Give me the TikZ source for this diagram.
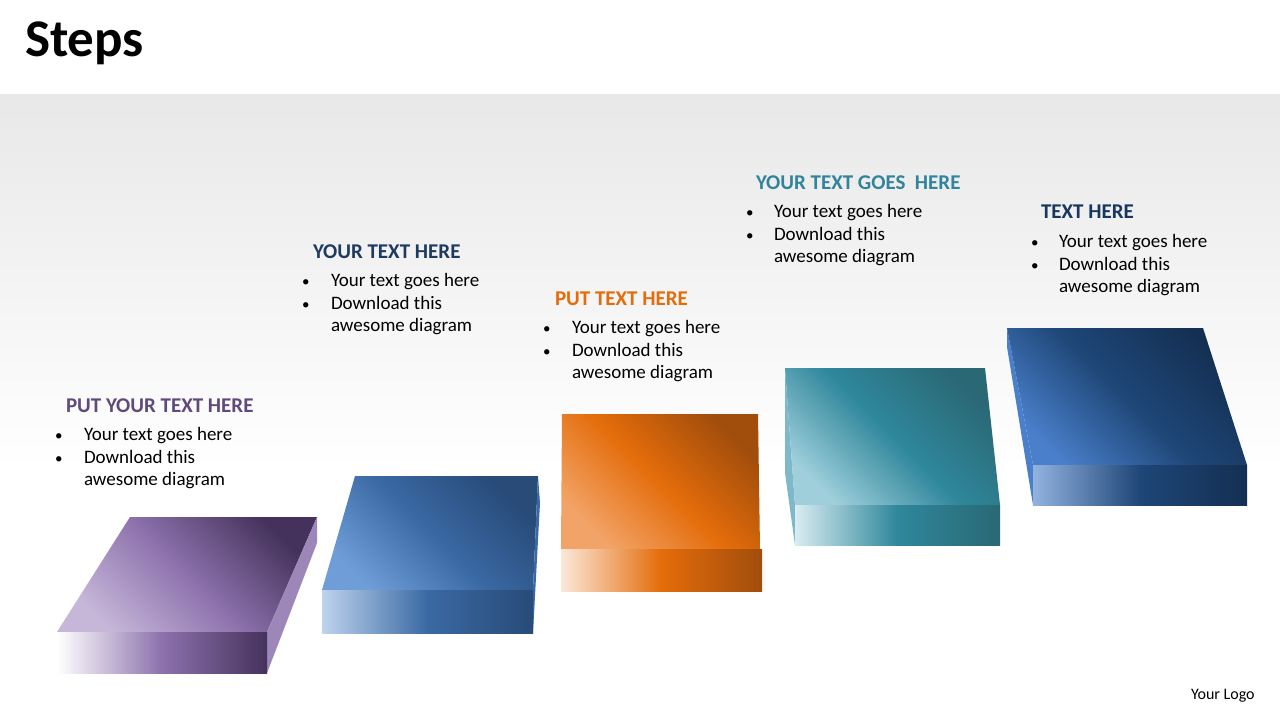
\documentclass[tikz,border=0pt]{standalone}
\usepackage{fontspec}
\setmainfont{Carlito}
\usepackage{tikz}
\definecolor{purdark}{HTML}{45325C}
\definecolor{purmid}{HTML}{8C71AC}
\definecolor{purlight}{HTML}{C6B6D8}
\definecolor{bludark}{HTML}{284B78}
\definecolor{blumid}{HTML}{3A69A3}
\definecolor{blulight}{HTML}{6E9DD8}
\definecolor{oradark}{HTML}{A14D0C}
\definecolor{oramid}{HTML}{E46C0A}
\definecolor{oralight}{HTML}{F2A468}
\definecolor{tealdark}{HTML}{2A6875}
\definecolor{tealmid}{HTML}{2F879B}
\definecolor{teallight}{HTML}{9FCFDB}
\definecolor{navdark}{HTML}{142F52}
\definecolor{navmid}{HTML}{1E4677}
\definecolor{navlight}{HTML}{4A80CB}
\definecolor{headpur}{HTML}{604A7B}
\definecolor{headblu}{HTML}{1F3A60}
\definecolor{headora}{HTML}{E46C0A}
\definecolor{headteal}{HTML}{31849B}
\definecolor{headnav}{HTML}{17375E}
\tikzset{
    every node/.style={inner sep=0pt, outer sep=0pt,
    	font=\fontsize{19}{23}\selectfont}
}
\tikzset{
    head/.style={anchor=mid west, font=\fontsize{21}{25}\selectfont\bfseries},
    txt/.style={anchor=mid west},
    dot/.style={anchor=mid west, font=\fontsize{15}{18}\selectfont}
}
\tikzset{
    topface/.style={shading=axis, shading angle=-45}
}

\begin{document}
\begin{tikzpicture}[x=1pt, y=-1pt]
  \useasboundingbox (0,0) rectangle (1280,720);
  \fill[white] (0,0) rectangle (1280,720);
  \shade[top color=black!9, bottom color=white] (0,94) rectangle (1280,470);

  \node (title) [anchor=base west, font=\fontsize{53}{60}\selectfont\bfseries] at (25,56) {Steps};
  \node (logo) [anchor=mid west, font=\fontsize{16}{18}\selectfont] at (1191,697) {Your Logo};

  % step 1
  \shade[top color=purdark, bottom color=purlight, middle color=purmid, topface]
    (130,517) -- (317,517) -- (267,632) -- (57,632) -- cycle;
  \fill[purmid!85!white] (267,632) -- (317,517) -- (317,543) -- (267,673) -- cycle;
  \shade[left color=white, right color=purdark, middle color=purmid]
    (57,632) rectangle (267,673);

  % step 2
  \shade[top color=bludark, bottom color=blulight, middle color=blumid, topface]
    (355,476) -- (538,476) -- (533,590) -- (322,590) -- cycle;
  \fill[blumid] (533,590) -- (538,476) -- (540,503) -- (533,633) -- cycle;
  \shade[left color=blulight!45!white, right color=bludark, middle color=blumid]
    (322,590) rectangle (533,633);

  % step 3
  \shade[top color=oradark, bottom color=oralight, middle color=oramid, topface]
    (562,414) -- (758,414) -- (760,549) -- (561,549) -- cycle;
  \shade[left color=oralight!25!white, right color=oradark, middle color=oramid]
    (561,549) rectangle (762,591);

  % step 4
  \fill[teallight!70!tealmid] (785,368) -- (795,505) -- (795,545) -- (785,473) -- cycle;
  \shade[top color=tealdark, bottom color=teallight, middle color=tealmid, topface]
    (785,368) -- (985,368) -- (1000,505) -- (795,505) -- cycle;
  \shade[left color=teallight!40!white, right color=tealdark, middle color=tealmid]
    (795,505) rectangle (1000,545);

  % step 5
  \fill[navlight] (1007,328) -- (1033,465) -- (1033,505) -- (1007,347) -- cycle;
  \shade[top color=navdark, bottom color=navlight, middle color=navmid, topface]
    (1007,328) -- (1203,328) -- (1247,465) -- (1033,465) -- cycle;
  \shade[left color=navlight!60!white, right color=navdark, middle color=navmid]
    (1033,465) rectangle (1247,505);

  % texts
  \node (1) [head, text=headpur] at (66,410) {PUT YOUR TEXT HERE};
  \node (1a) [dot] at (55,438) {\textbullet};
  \node (1b) [dot] at (55,461) {\textbullet};
  \node (1c) [txt] at (84,438) {Your text goes here};
  \node (1d) [txt] at (84,461) {Download this};
  \node (1e) [txt] at (84,483) {awesome diagram};

  \node (2) [head, text=headblu] at (313,256) {YOUR TEXT HERE};
  \node (2a) [dot] at (302,284) {\textbullet};
  \node (2b) [dot] at (302,307) {\textbullet};
  \node (2c) [txt] at (331,284) {Your text goes here};
  \node (2d) [txt] at (331,307) {Download this};
  \node (2e) [txt] at (331,329) {awesome diagram};

  \node (3) [head, text=headora] at (555,303) {PUT TEXT HERE};
  \node (3a) [dot] at (543,331) {\textbullet};
  \node (3b) [dot] at (543,354) {\textbullet};
  \node (3c) [txt] at (572,331) {Your text goes here};
  \node (3d) [txt] at (572,354) {Download this};
  \node (3e) [txt] at (572,376) {awesome diagram};

  \node (4) [head, text=headteal] at (756,187) {YOUR TEXT GOES \ HERE};
  \node (4a) [dot] at (746,215) {\textbullet};
  \node (4b) [dot] at (746,238) {\textbullet};
  \node (4c) [txt] at (774,215) {Your text goes here};
  \node (4d) [txt] at (774,238) {Download this};
  \node (4e) [txt] at (774,260) {awesome diagram};

  \node (5) [head, text=headnav] at (1041,216) {TEXT HERE};
  \node (5a) [dot] at (1031,245) {\textbullet};
  \node (5b) [dot] at (1031,268) {\textbullet};
  \node (5c) [txt] at (1059,245) {Your text goes here};
  \node (5d) [txt] at (1059,268) {Download this};
  \node (5e) [txt] at (1059,290) {awesome diagram};
\end{tikzpicture}
\end{document}
